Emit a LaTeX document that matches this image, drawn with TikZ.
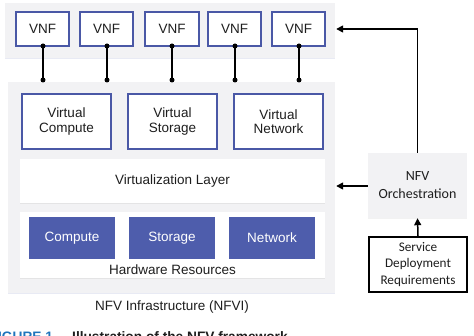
\documentclass[tikz,border=0pt]{standalone}
\usepackage{fontspec}
\setmainfont{Liberation Sans}
\newfontfamily\calfont{Carlito}
\usetikzlibrary{arrows.meta,shadows}
\definecolor{panelgray}{HTML}{F2F2F4}
\definecolor{boxblue}{HTML}{4E5DAC}
\definecolor{edgeblue}{HTML}{4A58A6}
\definecolor{capblue}{HTML}{1F74BC}
\definecolor{txt}{HTML}{1E1E1E}
\tikzset{
  panel/.style={fill=panelgray, draw=none, drop shadow={shadow xshift=0pt, shadow yshift=-1.2pt, opacity=0.12, fill=edgeblue}},
  vbox/.style={draw=edgeblue, line width=1.4pt, fill=white, text=txt, align=center, font=\fontsize{13.5}{14.5}\selectfont},
  wbox/.style={fill=white, draw=none, text=txt, font=\fontsize{13.5}{14.5}\selectfont, drop shadow={shadow xshift=0pt, shadow yshift=-1pt, opacity=0.12}},
  hwbox/.style={fill=boxblue, draw=none, text=white, font=\fontsize{13.5}{14.5}\selectfont},
  lbl/.style={text=txt, font=\fontsize{13.5}{14.5}\selectfont},
  link/.style={line width=1.5pt, black},
  dot/.style={circle, fill=black, inner sep=0pt, minimum size=5pt},
  arr/.style={line width=1.5pt, black, -{Triangle[length=7pt,width=7pt]}},
  orch/.style={fill=panelgray, draw=none, align=center, text=txt, font=\calfont\fontsize{14}{18}\selectfont, drop shadow={shadow xshift=0pt, shadow yshift=-1.2pt, opacity=0.1}},
  req/.style={draw=black, line width=1.8pt, fill=white, align=center, text=txt, font=\calfont\fontsize{13.2}{16.5}\selectfont},
}
\begin{document}
\begin{tikzpicture}[x=1pt,y=-1pt]
\useasboundingbox (0,0) rectangle (474,336);
\clip (0,0) rectangle (474,336);
\fill[white] (0,0) rectangle (474,336);

% panels
\node[panel, minimum width=330pt, minimum height=55pt, inner sep=0pt] (vnfpanel) at (170,30.5) {};
\node[panel, minimum width=327pt, minimum height=211pt, inner sep=0pt] (nfvi) at (171.5,187.5) {};

% VNF boxes
\foreach \i/\xa/\xb in {1/16/69, 2/80/133, 3/145/199, 4/208/261, 5/272/325}{
  \node[vbox, minimum width={\xb-\xa}, minimum height=34pt, inner sep=0pt] (vnf\i) at ({(\xa+\xb)/2},29) {VNF};
}

% virtual resources
\node[vbox, minimum width=89pt, minimum height=55pt, inner sep=0pt] (vcomp) at (66.5,121.5) {Virtual\\Compute};
\node[vbox, minimum width=89pt, minimum height=55pt, inner sep=0pt] (vstor) at (172.5,121.5) {Virtual\\Storage};
\node[vbox, minimum width=89pt, minimum height=55pt, inner sep=0pt] (vnet) at (278.5,121.5) {Virtual\\Network};

% virtualization layer
\node[wbox, minimum width=305pt, minimum height=44pt, inner sep=0pt] (vlayer) at (172.5,181) {Virtualization Layer};

% hardware
\node[wbox, minimum width=305pt, minimum height=66pt, inner sep=0pt] (hw) at (172.5,245) {};
\node[hwbox, minimum width=86pt, minimum height=42pt, inner sep=0pt] (hcomp) at (72,238) {Compute};
\node[hwbox, minimum width=86pt, minimum height=42pt, inner sep=0pt] (hstor) at (172,238) {Storage};
\node[hwbox, minimum width=86pt, minimum height=42pt, inner sep=0pt] (hnet) at (272,238) {Network};
\node[lbl, inner sep=0pt] (hwlbl) at (172.5,270) {Hardware Resources};

\node[lbl, inner sep=0pt] (nfvilbl) at (172,307) {NFV Infrastructure (NFVI)};

% VNF to NFVI links
\foreach \i/\x in {1/43, 2/107, 3/172, 4/235, 5/299}{
  \coordinate (top\i) at (\x,46);
  \coordinate (bot\i) at (\x,80);
  \draw[link] (top\i) -- (bot\i);
  \node[dot] (td\i) at (top\i) {};
  \node[dot] (bd\i) at (bot\i) {};
}

% orchestration
\node[orch, minimum width=99pt, minimum height=65pt, inner sep=0pt] (orch) at (417.5,185.5) {NFV\\Orchestration};
\node[req, minimum width=98pt, minimum height=55pt, inner sep=0pt] (req) at (418,264.5) {Service\\Deployment\\Requirements};

\coordinate (vnftarget) at ([xshift=1pt]vnfpanel.east |- 0,29);
\coordinate (vltarget) at ([xshift=1pt]nfvi.east |- 0,186);
\draw[arr] (orch.north) |- (vnftarget);
\draw[arr] (orch.west |- vltarget) -- (vltarget);
\draw[arr] (req.north) -- (orch.south);

% caption (cut off at bottom, as in the reference)
\node[anchor=base east, inner sep=0pt, text=capblue, font=\bfseries\fontsize{13.7}{15}\selectfont] (capa) at (57,342) {FIGURE 1.};
\node[anchor=base west, inner sep=0pt, text=txt, font=\bfseries\fontsize{13.7}{15}\selectfont] (capb) at (72,342) {Illustration of the NFV framework};
\end{tikzpicture}
\end{document}
